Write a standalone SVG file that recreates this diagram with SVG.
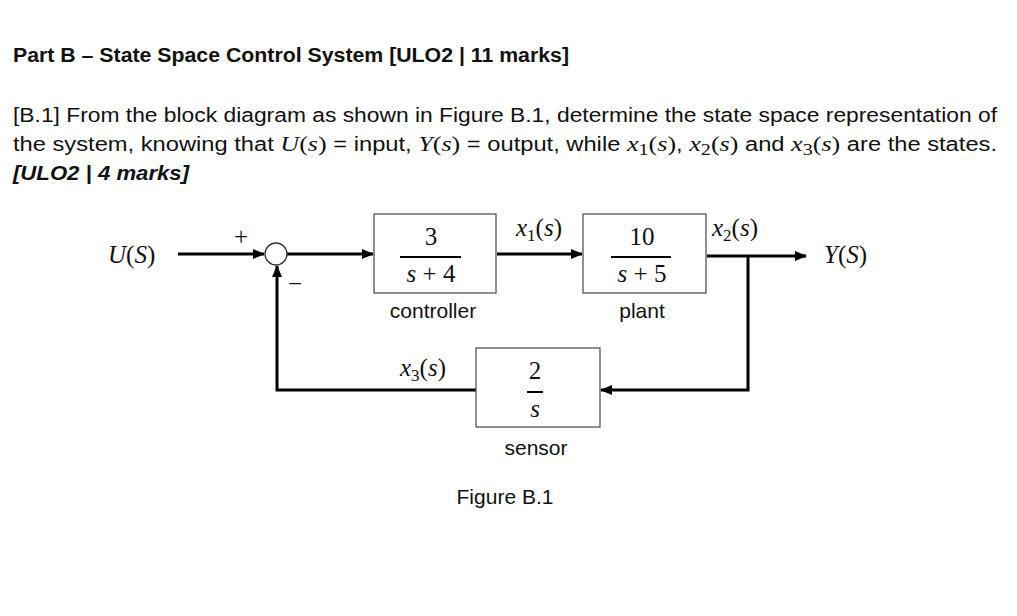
<svg xmlns="http://www.w3.org/2000/svg" width="1017" height="616" viewBox="0 0 1017 616">
<style>
text{font-family:"Liberation Sans",Arial,sans-serif;fill:#111}
.b{font-size:20px}
.h{font-size:20px;font-weight:bold}
.m{font-family:"Liberation Serif","Times New Roman",serif;font-style:italic;font-size:25px}
.n{font-family:"Liberation Serif","Times New Roman",serif;font-style:normal;font-size:25px}
.sub{font-family:"Liberation Serif","Times New Roman",serif;font-style:normal;font-size:17px}
.b .m,.b .n{font-size:22px}
.lb{font-size:21px}
.box{fill:#fff;stroke:#555;stroke-width:1.3}
.ln{fill:none;stroke:#000;stroke-width:3}
</style>
<defs><marker id="a" markerWidth="12" markerHeight="10" refX="11" refY="5" orient="auto" markerUnits="userSpaceOnUse"><path d="M0,0L12,5L0,10z" fill="#000"/></marker></defs>
<rect width="1017" height="616" fill="#fff"/>
<text class="h" x="13" y="62" textLength="556" lengthAdjust="spacingAndGlyphs">Part B – State Space Control System [ULO2 | 11 marks]</text>
<text class="b" x="13" y="122" textLength="984" lengthAdjust="spacingAndGlyphs">[B.1] From the block diagram as shown in Figure B.1, determine the state space representation of</text>
<text class="b" x="13" y="151" textLength="984" lengthAdjust="spacingAndGlyphs">the system, knowing that <tspan class="m">U</tspan><tspan class="n">(</tspan><tspan class="m">s</tspan><tspan class="n">)</tspan> = input, <tspan class="m">Y</tspan><tspan class="n">(</tspan><tspan class="m">s</tspan><tspan class="n">)</tspan> = output, while <tspan class="m">x</tspan><tspan class="sub" dy="4">1</tspan><tspan class="n" dy="-4">(</tspan><tspan class="m">s</tspan><tspan class="n">)</tspan>, <tspan class="m">x</tspan><tspan class="sub" dy="4">2</tspan><tspan class="n" dy="-4">(</tspan><tspan class="m">s</tspan><tspan class="n">)</tspan> and <tspan class="m">x</tspan><tspan class="sub" dy="4">3</tspan><tspan class="n" dy="-4">(</tspan><tspan class="m">s</tspan><tspan class="n">)</tspan> are the states.</text>
<text class="h" x="13" y="180" font-style="italic" textLength="176" lengthAdjust="spacingAndGlyphs">[ULO2 | 4 marks]</text>
<g id="connectors">
<line class="ln" x1="178" y1="254" x2="264" y2="254" marker-end="url(#a)"/>
<line class="ln" x1="287" y1="254" x2="373" y2="254" marker-end="url(#a)"/>
<line class="ln" x1="497" y1="254" x2="582" y2="254" marker-end="url(#a)"/>
<line class="ln" x1="707" y1="256" x2="806" y2="256" marker-end="url(#a)"/>
<polyline class="ln" points="748,256 748,390 601,390" marker-end="url(#a)"/>
<polyline class="ln" points="476,390 277,390 277,266" marker-end="url(#a)"/>
</g>
<g id="sum"><circle cx="276" cy="254" r="11" fill="#fff" stroke="#333" stroke-width="1.3"/>
<text class="n" x="234" y="245">+</text><text class="n" x="288" y="292">−</text></g>
<g id="input"><text class="m" x="108" y="263">U<tspan class="n">(</tspan>S<tspan class="n">)</tspan></text></g>
<g id="output"><text class="m" x="824" y="263">Y<tspan class="n">(</tspan>S<tspan class="n">)</tspan></text></g>
<g id="controller"><rect class="box" x="374" y="214" width="122" height="79"/>
<text class="n" x="431" y="245" text-anchor="middle">3</text>
<line x1="400" y1="257" x2="461" y2="257" stroke="#000" stroke-width="2"/>
<text class="m" x="431" y="282" text-anchor="middle">s <tspan class="n">+ 4</tspan></text>
<text class="lb" x="433" y="318" text-anchor="middle">controller</text></g>
<g id="plant"><rect class="box" x="583" y="214" width="123" height="79"/>
<text class="n" x="642" y="245" text-anchor="middle">10</text>
<line x1="611" y1="257" x2="671" y2="257" stroke="#000" stroke-width="2"/>
<text class="m" x="642" y="282" text-anchor="middle">s <tspan class="n">+ 5</tspan></text>
<text class="lb" x="642" y="318" text-anchor="middle">plant</text></g>
<g id="sensor"><rect class="box" x="476" y="348" width="124" height="79"/>
<text class="n" x="535" y="379" text-anchor="middle">2</text>
<line x1="527" y1="392" x2="543" y2="392" stroke="#000" stroke-width="2"/>
<text class="m" x="535" y="417" text-anchor="middle">s</text>
<text class="lb" x="536" y="455" text-anchor="middle">sensor</text></g>
<text class="m" x="516" y="236">x<tspan class="sub" dy="5">1</tspan><tspan dy="-5" class="n">(</tspan>s<tspan class="n">)</tspan></text>
<text class="m" x="712" y="236">x<tspan class="sub" dy="5">2</tspan><tspan dy="-5" class="n">(</tspan>s<tspan class="n">)</tspan></text>
<text class="m" x="400" y="376">x<tspan class="sub" dy="5">3</tspan><tspan dy="-5" class="n">(</tspan>s<tspan class="n">)</tspan></text>
<text class="lb" x="505" y="504" text-anchor="middle">Figure B.1</text>
</svg>
